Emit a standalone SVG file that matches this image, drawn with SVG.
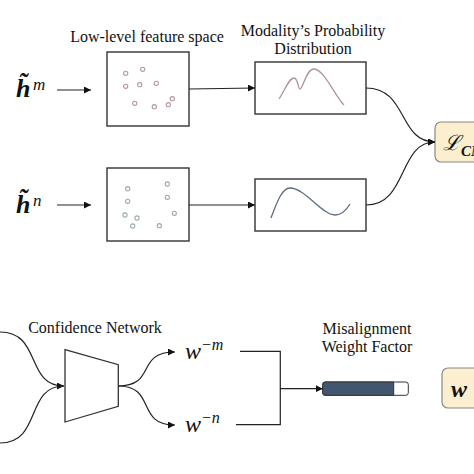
<svg xmlns="http://www.w3.org/2000/svg" width="474" height="474" viewBox="0 0 474 474">
<style>
.lbl{font-family:"Liberation Serif","DejaVu Serif",serif;font-size:16px;fill:#111}
.box{fill:#fff;stroke:#333;stroke-width:1.4}
.ln{fill:none;stroke:#222;stroke-width:1.2}
.m{font-family:"Liberation Serif","DejaVu Serif",serif;fill:#111}
.dp{fill:none;stroke:#b8979f;stroke-width:1.1}
.db{fill:none;stroke:#9aacad;stroke-width:1.1}
.loss{fill:#fcefcf;stroke:#8a8a80;stroke-width:1.2}
</style>
<defs>
<marker id="ah" viewBox="0 0 10 10" refX="10" refY="5" markerWidth="7" markerHeight="7" orient="auto" markerUnits="userSpaceOnUse">
<path d="M0,0 L10,5 L0,10 z" fill="#111"/>
</marker>
</defs>

<g id="inputs">
<g id="hm"><text class="m" x="16" y="97" font-size="26" font-weight="bold" font-style="italic">h&#x303;</text><text class="m" x="33" y="90" font-size="17" font-style="italic">m</text></g>
<g id="hn"><text class="m" x="16" y="213" font-size="26" font-weight="bold" font-style="italic">h&#x303;</text><text class="m" x="33" y="206" font-size="17" font-style="italic">n</text></g>
</g>

<text class="lbl" x="147" y="42" text-anchor="middle">Low-level feature space</text>
<text class="lbl" x="313" y="36" text-anchor="middle">Modality’s Probability</text>
<text class="lbl" x="313" y="54" text-anchor="middle">Distribution</text>

<g id="feat-m">
<rect class="box" x="107" y="52" width="82" height="74"/>
<g class="dp">
<circle cx="125.7" cy="73.3" r="2.1"/><circle cx="142.7" cy="69.3" r="2.1"/><circle cx="125.7" cy="86.3" r="2.1"/>
<circle cx="139.7" cy="84.7" r="2.1"/><circle cx="156.3" cy="83.3" r="2.1"/><circle cx="134.7" cy="103.3" r="2.1"/>
<circle cx="154.3" cy="106.7" r="2.1"/><circle cx="168.3" cy="104.7" r="2.1"/><circle cx="172.3" cy="98.7" r="2.1"/>
</g>
</g>
<g id="feat-n">
<rect class="box" x="107" y="168" width="82" height="73"/>
<g class="db">
<circle cx="127.7" cy="188.7" r="2.1"/><circle cx="167.3" cy="184" r="2.1"/><circle cx="127.7" cy="201.3" r="2.1"/>
<circle cx="167.3" cy="197.3" r="2.1"/><circle cx="125" cy="215" r="2.1"/><circle cx="137" cy="218" r="2.1"/>
<circle cx="174.3" cy="213.3" r="2.1"/><circle cx="132.7" cy="226" r="2.1"/><circle cx="159.3" cy="225.7" r="2.1"/>
</g>
</g>

<g id="dist-m">
<rect class="box" x="255" y="62" width="111" height="52"/>
<path d="M279,99 C285,90 289,78 294,78 C298,78 298,89 300,89 C303,89 306,69 314,69 C324,69 336,98 344,105" fill="none" stroke="#b0939b" stroke-width="1.3"/>
</g>
<g id="dist-n">
<rect class="box" x="255" y="179" width="111" height="52"/>
<path d="M271,218 C277,202 282,188 290,188 C305,188 322,215 335,215 C342,215 347,209 350,204" fill="none" stroke="#5d6a80" stroke-width="1.3"/>
</g>

<g id="loss">
<rect class="loss" x="435" y="122" width="50" height="40" rx="6"/>
<text class="m" x="443" y="150" font-size="21" font-style="italic">ℒ</text>
<text class="m" x="461" y="156" font-size="15" font-weight="bold" font-style="italic">CM</text>
</g>

<g id="conf-net">
<text class="lbl" x="95" y="333" text-anchor="middle">Confidence Network</text>
<path d="M65,349.7 L118.3,364.7 L118.3,406.3 L65,422 Z" fill="#fff" stroke="#333" stroke-width="1.3"/>
</g>

<g id="wm"><text class="m" x="185" y="359" font-size="24" font-style="italic">w</text><text class="m" x="201" y="350" font-size="16" font-style="italic">−m</text></g>
<g id="wn"><text class="m" x="185" y="432" font-size="24" font-style="italic">w</text><text class="m" x="201" y="423" font-size="16" font-style="italic">−n</text></g>

<g id="weight">
<text class="lbl" x="367" y="334" text-anchor="middle">Misalignment</text>
<text class="lbl" x="367" y="352" text-anchor="middle">Weight Factor</text>
<rect x="322.7" y="382" width="85.6" height="13.3" rx="2.5" fill="#fff" stroke="#333" stroke-width="1"/>
<path d="M325.2,382 H393.7 V395.3 H325.2 A2.5,2.5 0 0 1 322.7,392.8 V384.5 A2.5,2.5 0 0 1 325.2,382 Z" fill="#425670" stroke="#333" stroke-width="1"/>
</g>

<g id="wout">
<rect class="loss" x="442" y="368" width="50" height="40" rx="6"/>
<text class="m" x="451" y="397" font-size="24" font-weight="bold" font-style="italic">w</text>
</g>

<g id="connectors">
<path class="ln" d="M57,90 H91" marker-end="url(#ah)"/>
<path class="ln" d="M57,205 H91" marker-end="url(#ah)"/>
<path class="ln" d="M189,89 L255,88" marker-end="url(#ah)"/>
<path class="ln" d="M189,205 L255,205" marker-end="url(#ah)"/>
<path class="ln" d="M366,88 C408,88 398,142 435,142" marker-end="url(#ah)"/>
<path class="ln" d="M366,205 C408,205 398,142 435,142" marker-end="url(#ah)"/>
<path class="ln" d="M0,332 C42,332 25,386 64,386" marker-end="url(#ah)"/>
<path class="ln" d="M0,443 C42,443 25,386 64,386"/>
<path class="ln" d="M118,386 C157,386 135,352 175,352" marker-end="url(#ah)"/>
<path class="ln" d="M118,386 C157,386 135,425 175,425" marker-end="url(#ah)"/>
<path class="ln" d="M240,351.3 H280.3 V424.7 H236"/>
<path class="ln" d="M280.3,388.7 H322.7" marker-end="url(#ah)"/>
</g>
</svg>
